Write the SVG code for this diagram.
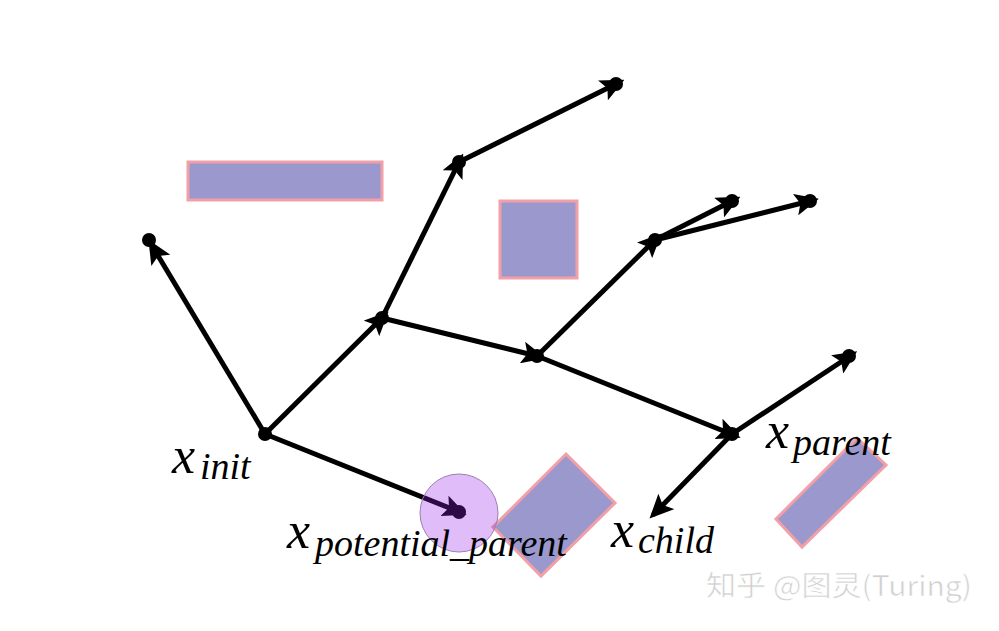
<svg xmlns="http://www.w3.org/2000/svg" width="999" height="631" viewBox="0 0 999 631">
<style>
.obs{fill:#9a98cc;stroke:#f2a0a8;stroke-width:3}
.e{stroke:#000;stroke-width:5;fill:none;marker-end:url(#ah)}
.dot{fill:#000}
</style>
<defs>
<marker id="ah" markerUnits="userSpaceOnUse" viewBox="0 0 24 22" markerWidth="24" markerHeight="22" refX="19" refY="11" orient="auto">
<path d="M0,0 L24,11 L0,22 L5,11 Z" fill="#000"/>
</marker>
</defs>
<rect width="999" height="631" fill="#fff"/>
<g id="obstacles">
<rect class="obs" x="188" y="162" width="194" height="38"/>
<rect class="obs" x="500" y="201" width="77" height="77"/>
<polygon class="obs" points="566,454 615,503 541,576 493,527"/>
<polygon class="obs" points="857,438 886,465 802,547 776,519"/>
</g>
<g id="connectors">
<line class="e" x1="265" y1="434" x2="151" y2="244"/>
<line class="e" x1="265" y1="434" x2="385" y2="315"/>
<line class="e" x1="265" y1="434" x2="462" y2="513"/>
<line class="e" x1="382" y1="318" x2="461" y2="158"/>
<line class="e" x1="459" y1="162" x2="620" y2="82"/>
<line class="e" x1="382" y1="318" x2="541" y2="357"/>
<line class="e" x1="537" y1="356" x2="658" y2="237"/>
<line class="e" x1="655" y1="240" x2="736" y2="199"/>
<line class="e" x1="655" y1="240" x2="814" y2="200"/>
<line class="e" x1="537" y1="356" x2="736" y2="436"/>
<line class="e" x1="732" y1="434" x2="853" y2="354"/>
<line class="e" x1="732" y1="434" x2="653" y2="515"/>
</g>
<g id="n_init"><circle class="dot" cx="265" cy="434" r="7"/></g>
<g id="n_a"><circle class="dot" cx="149" cy="240" r="7"/></g>
<g id="n_b"><circle class="dot" cx="382" cy="318" r="7"/></g>
<g id="n_c"><circle class="dot" cx="459" cy="162" r="7"/></g>
<g id="n_d"><circle class="dot" cx="616" cy="84" r="7"/></g>
<g id="n_e"><circle class="dot" cx="537" cy="356" r="7"/></g>
<g id="n_f"><circle class="dot" cx="655" cy="240" r="7"/></g>
<g id="n_g"><circle class="dot" cx="732" cy="201" r="7"/></g>
<g id="n_h"><circle class="dot" cx="810" cy="201" r="7"/></g>
<g id="n_parent"><circle class="dot" cx="732" cy="434" r="7"/></g>
<g id="n_i"><circle class="dot" cx="849" cy="356" r="7"/></g>
<g id="n_potential">
<circle class="dot" cx="459" cy="512" r="7"/>
<circle cx="459" cy="513" r="39" fill="#9820e8" fill-opacity="0.3" stroke="#9a80b0" stroke-width="1"/>
</g>
<text x="172" y="473" font-size="52" style="font-family:'Liberation Serif';font-style:italic">x</text>
<text x="200" y="479" font-size="38" style="font-family:'Liberation Serif';font-style:italic">init</text>
<text x="287" y="548" font-size="52" style="font-family:'Liberation Serif';font-style:italic">x</text>
<text x="315" y="556" font-size="38" style="font-family:'Liberation Serif';font-style:italic">potential_parent</text>
<text x="611" y="547" font-size="52" style="font-family:'Liberation Serif';font-style:italic">x</text>
<text x="638" y="553" font-size="38" style="font-family:'Liberation Serif';font-style:italic">child</text>
<text x="766" y="448" font-size="52" style="font-family:'Liberation Serif';font-style:italic">x</text>
<text x="793" y="455" font-size="38" style="font-family:'Liberation Serif';font-style:italic">parent</text>
<text x="706" y="596" font-size="28" style="font-family:'Noto Sans CJK SC',sans-serif;fill:#cfcfcf;stroke:#fff;stroke-width:0.6" textLength="266" lengthAdjust="spacingAndGlyphs">知乎 @图灵(Turing)</text>
</svg>
